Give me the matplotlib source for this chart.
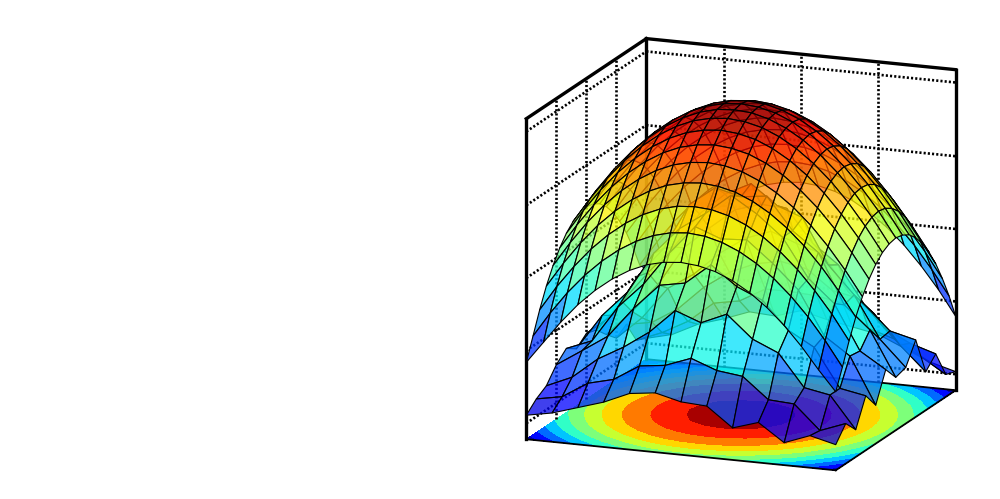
import numpy as np
import matplotlib
matplotlib.use("Agg")
import matplotlib.pyplot as plt
from mpl_toolkits.mplot3d.art3d import Poly3DCollection

dome_x = np.linspace(-1, 1, 19)
dome_y = np.linspace(-1, 1, 19)
noisy_x = np.linspace(-1, 1, 13)
noisy_y = np.linspace(-1, 1, 13)

dome_rows = [
 [240,308,376,436,486,527,559,582,595,600,595,582,559,527,486,436,376,308,280],
 [308,385,454,513,563,604,636,659,673,678,673,659,636,604,563,513,454,385,308],
 [376,454,522,582,632,673,705,728,742,746,742,728,705,673,632,582,522,454,376],
 [436,513,582,642,692,733,765,788,801,806,801,788,765,733,692,642,582,513,436],
 [486,563,632,692,742,783,815,838,851,856,851,838,815,783,742,692,632,563,486],
 [527,604,673,733,783,824,856,879,892,897,892,879,856,824,783,733,673,604,527],
 [559,636,705,765,815,856,888,911,924,929,924,911,888,856,815,765,705,636,559],
 [582,659,728,788,838,879,911,934,947,952,947,934,911,879,838,788,728,659,582],
 [595,673,742,801,851,892,924,947,961,965,961,947,924,892,851,801,742,673,595],
 [600,678,746,806,856,897,929,952,965,970,965,952,929,897,856,806,746,678,600],
 [595,673,742,801,851,892,924,947,961,965,961,947,924,892,851,801,742,673,595],
 [582,659,728,788,838,879,911,934,947,952,947,934,911,879,838,788,728,659,582],
 [559,636,705,765,815,856,888,911,924,929,924,911,888,856,815,765,705,636,559],
 [527,604,673,733,783,824,856,879,892,897,892,879,856,824,783,733,673,604,527],
 [486,563,632,692,742,783,815,838,851,856,851,838,815,783,742,692,632,563,486],
 [436,513,582,642,692,733,765,788,801,806,801,788,765,733,692,642,582,513,436],
 [376,454,522,582,632,673,705,728,742,746,742,728,705,673,632,582,522,454,376],
 [308,385,454,513,563,604,636,659,673,678,673,659,636,604,563,513,454,385,308],
 [245,308,376,436,486,527,559,582,595,600,595,582,559,527,486,436,376,308,230],
]

noisy_rows = [
 [ 75,105,125,170,200,178,205,195,160,128,150, 80, 65],
 [ 90,120,160,222,232,290,270,292,240,200,165,112, 85],
 [115,170,225,275,345,372,400,390,332,300,215,155,125],
 [140,190,270,370,425,500,495,478,455,352,290,220,150],
 [175,240,325,450,530,585,640,590,525,425,345,235,180],
 [185,250,400,465,620,640,700,660,590,480,380,280,175],
 [165,280,370,530,590,705,680,700,615,510,395,280,200],
 [160,250,405,470,595,655,690,640,610,480,380,275,180],
 [100,240,335,435,530,590,590,610,510,455,320,260,165],
 [125,175,300,350,455,470,530,470,450,345,305,190,150],
 [ 70,170,200,305,320,400,375,385,335,285,220,165,115],
 [100, 95,185,185,265,260,305,255,260,195,180,120, 80],
 [ 80,125, 85,170,120,210,165,175,240,120,155, 70, 58],
]

contour_levels = [0.22, 0.29, 0.36, 0.43, 0.50, 0.57, 0.64, 0.71, 0.78, 0.86, 0.93, 0.99]
wall_ticks = [-0.5, 0.0, 0.5]
z_ticks = [0.05, 0.277, 0.503, 0.73, 0.96]

dome = np.array(dome_rows) / 1000.0
noisy = np.array(noisy_rows) / 1000.0

W, H = 1000, 499
fig = plt.figure(figsize=(W / 100, H / 100), dpi=100, facecolor="white")
s = 558
ax = fig.add_axes([(741 - s / 2 - 7.5) / W, (244.5 - s / 2 - 7.5) / H, s / W, s / H],
                  projection="3d", proj_type="ortho")
ax.set_box_aspect((1, 1, 1))
ax.view_init(elev=15, azim=-68.8)
ax.set_xlim(-1, 1, view_margin=0)
ax.set_ylim(-1, 1, view_margin=0)
ax.set_zlim(0, 1, view_margin=0)
ax.set_axis_off()
ax.computed_zorder = False


def faces(xs, ys, Z, vmin, vmax, alpha):
    X, Y = np.meshgrid(xs, ys, indexing="ij")
    polys, cols = [], []
    cmap = plt.get_cmap("jet")
    for i in range(Z.shape[0] - 1):
        for j in range(Z.shape[1] - 1):
            idx = [(i, j), (i + 1, j), (i + 1, j + 1), (i, j + 1)]
            polys.append([(X[a], Y[a], Z[a]) for a in idx])
            c = cmap((np.mean([Z[a] for a in idx]) - vmin) / (vmax - vmin))
            cols.append((c[0], c[1], c[2], alpha))
    return polys, cols


# floor contour
DX, DY = np.meshgrid(dome_x, dome_y, indexing="ij")
ax.contourf(DX, DY, dome, levels=contour_levels, cmap="jet", offset=0.0, zorder=1,
            extend="both", antialiased=False)

# walls grid
grid_kw = dict(color="black", lw=1.9, ls=(0, (0.8, 0.8)), zorder=2)
for t in wall_ticks:
    ax.plot([-1, -1], [t, t], [0, 1], **grid_kw)
    ax.plot([t, t], [1, 1], [0, 1], **grid_kw)
for zt in z_ticks:
    ax.plot([-1, -1], [-1, 1], [zt, zt], **grid_kw)
    ax.plot([-1, 1], [1, 1], [zt, zt], **grid_kw)

# box
thick = dict(color="black", lw=2.4, zorder=3, solid_capstyle="projecting")
thin = dict(color="black", lw=1.3, zorder=3)
ax.plot([-1, -1], [-1, -1], [0, 1], **thick)
ax.plot([-1, -1], [1, 1], [0, 1], **thick)
ax.plot([1, 1], [1, 1], [0, 1], **thick)
ax.plot([-1, -1], [-1, 1], [1, 1], **thick)
ax.plot([-1, 1], [1, 1], [1, 1], **thick)
ax.plot([-1, 1], [-1, -1], [0, 0], **thin)
ax.plot([1, 1], [-1, 1], [0, 0], **thin)
ax.plot([-1, 1], [1, 1], [0, 0], **thin)

# surfaces, in one collection so that depth sorting spans both
p1, c1 = faces(dome_x, dome_y, dome, 0.17, 0.97, 0.75)
p2, c2 = faces(noisy_x, noisy_y, noisy, 0.02, 0.85, 0.75)
coll = Poly3DCollection(p1 + p2, facecolors=c1 + c2, edgecolors="black",
                        linewidths=0.8, zorder=5)
ax.add_collection3d(coll, autolim=False)

fig.savefig("out.png", dpi=100)
